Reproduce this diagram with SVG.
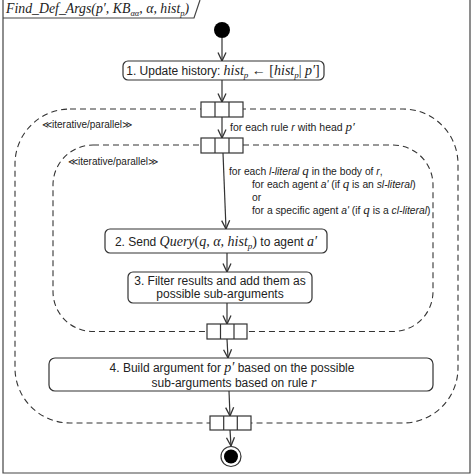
<svg xmlns="http://www.w3.org/2000/svg" width="474" height="474" viewBox="0 0 474 474">
<style>
.frame{fill:none;stroke:#444;stroke-width:1.2}
.box{fill:#fff;stroke:#333;stroke-width:1.2}
.bar{fill:#fff;stroke:#333;stroke-width:1.2}
.region{fill:none;stroke:#333;stroke-width:1.1;stroke-dasharray:6 4}
.edge{fill:none;stroke:#333;stroke-width:1.2;marker-end:url(#arr)}
.s{font-family:"Liberation Sans",Arial,sans-serif;fill:#222}
.m{font-family:"Liberation Serif","Times New Roman",serif;font-style:italic}
.r{font-family:"Liberation Serif","Times New Roman",serif;font-style:normal}
.si{font-style:italic}
</style>
<defs>
<marker id="arr" viewBox="0 0 10 10" refX="9.5" refY="5" markerWidth="10" markerHeight="10" markerUnits="userSpaceOnUse" orient="auto">
<path d="M1,1 L9.5,5 L1,9" fill="none" stroke="#333" stroke-width="1.3"/>
</marker>
</defs>
<rect width="474" height="474" fill="#fff"/>
<g id="frame">
<path class="frame" d="M3,0 V473 H470 V0"/>
<path class="frame" d="M3,18 H194 L200,0"/>
<text x="6" y="13" font-family="Liberation Serif,serif" font-style="italic" font-size="13.8" fill="#222">Find_Def_Args(p′, KB<tspan font-size="8.5" dy="3">αα</tspan><tspan dy="-3">, α, hist</tspan><tspan font-size="8.5" dy="3">p</tspan><tspan dy="-3">)</tspan></text>
</g>
<g id="region-outer">
<rect class="region" x="15" y="109" width="443" height="314" rx="55" ry="55"/>
<text class="s" x="42" y="128" font-size="10">≪iterative/parallel≫</text>
</g>
<g id="region-inner">
<rect class="region" x="53" y="145" width="380" height="186.5" rx="40" ry="40"/>
<text class="s" x="68" y="165" font-size="10">≪iterative/parallel≫</text>
</g>
<g id="connectors">
<line class="edge" x1="222" y1="38" x2="222" y2="61"/>
<line class="edge" x1="222" y1="80" x2="222" y2="102"/>
<line class="edge" x1="222" y1="117" x2="222" y2="138"/>
<line class="edge" x1="223" y1="153" x2="226" y2="229"/>
<line class="edge" x1="227" y1="253" x2="227" y2="272"/>
<line class="edge" x1="227" y1="303" x2="227" y2="324"/>
<line class="edge" x1="227" y1="339" x2="228" y2="358"/>
<line class="edge" x1="229" y1="391" x2="230" y2="416"/>
<line class="edge" x1="230" y1="430" x2="231" y2="446"/>
<text class="s" x="230" y="131" font-size="10.5">for each rule <tspan class="si">r</tspan> with head <tspan class="m" font-size="13">p′</tspan></text>
<text class="s" x="229" y="175" font-size="10.3">for each <tspan class="si">l-literal</tspan> <tspan class="m" font-size="13">q</tspan> in the body of <tspan class="si">r</tspan>,</text>
<text class="s" x="252" y="188" font-size="10.3">for each agent <tspan class="si">a'</tspan> (if <tspan class="m" font-size="13">q</tspan> is an <tspan class="si">sl-literal</tspan>)</text>
<text class="s" x="252" y="201" font-size="10.3">or</text>
<text class="s" x="252" y="214" font-size="10.3">for a specific agent <tspan class="si">a'</tspan>  (if <tspan class="m" font-size="13">q</tspan> is a <tspan class="si">cl-literal</tspan>)</text>
</g>
<g id="start">
<circle cx="222" cy="30" r="8" fill="#000"/>
</g>
<g id="step1">
<rect class="box" x="123" y="61" width="201" height="19" rx="5"/>
<text class="s" x="223" y="75" font-size="12" text-anchor="middle">1. Update history: <tspan class="m" font-size="14">hist</tspan><tspan class="m" font-size="9" dy="3">p</tspan><tspan class="r" font-size="14" dy="-3"> ← [</tspan><tspan class="m" font-size="14">hist</tspan><tspan class="m" font-size="9" dy="3">p</tspan><tspan class="r" font-size="14" dy="-3">| </tspan><tspan class="m" font-size="14">p′</tspan><tspan class="r" font-size="14">]</tspan></text>
</g>
<g id="fork1">
<rect class="bar" x="201" y="102" width="42" height="15"/>
<path d="M215,102 V117 M229,102 V117" stroke="#333" stroke-width="1.2"/>
</g>
<g id="fork2">
<rect class="bar" x="201" y="138" width="42" height="15"/>
<path d="M215,138 V153 M229,138 V153" stroke="#333" stroke-width="1.2"/>
</g>
<g id="step2">
<rect class="box" x="105" y="229" width="222" height="24" rx="5"/>
<text class="s" x="216" y="245.5" font-size="12" text-anchor="middle">2. Send <tspan class="m" font-size="14">Query</tspan><tspan class="r" font-size="14">(</tspan><tspan class="m" font-size="14">q,  α,  hist</tspan><tspan class="m" font-size="9" dy="3">p</tspan><tspan class="r" font-size="14" dy="-3">)</tspan> to agent <tspan class="m" font-size="14">a′</tspan></text>
</g>
<g id="step3">
<rect class="box" x="128" y="272" width="184" height="31" rx="5"/>
<text class="s" x="220" y="285" font-size="12" text-anchor="middle">3. Filter results and add them as</text>
<text class="s" x="220" y="297.5" font-size="12" text-anchor="middle">possible sub-arguments</text>
</g>
<g id="join1">
<rect class="bar" x="207" y="324" width="40" height="15"/>
<path d="M220.5,324 V339 M234,324 V339" stroke="#333" stroke-width="1.2"/>
</g>
<g id="step4">
<rect class="box" x="49" y="358" width="384" height="33" rx="6"/>
<text class="s" x="232" y="372" font-size="12" text-anchor="middle">4. Build argument for <tspan class="m" font-size="14">p′</tspan> based on the possible</text>
<text class="s" x="234" y="387" font-size="12" text-anchor="middle">sub-arguments based on rule <tspan class="m" font-size="14">r</tspan></text>
</g>
<g id="join2">
<rect class="bar" x="210" y="416" width="41" height="14"/>
<path d="M223.7,416 V430 M237.3,416 V430" stroke="#333" stroke-width="1.2"/>
</g>
<g id="end">
<circle cx="231" cy="456.5" r="10" fill="#fff" stroke="#333" stroke-width="1.2"/>
<circle cx="231" cy="456.5" r="7" fill="#000"/>
</g>
</svg>
